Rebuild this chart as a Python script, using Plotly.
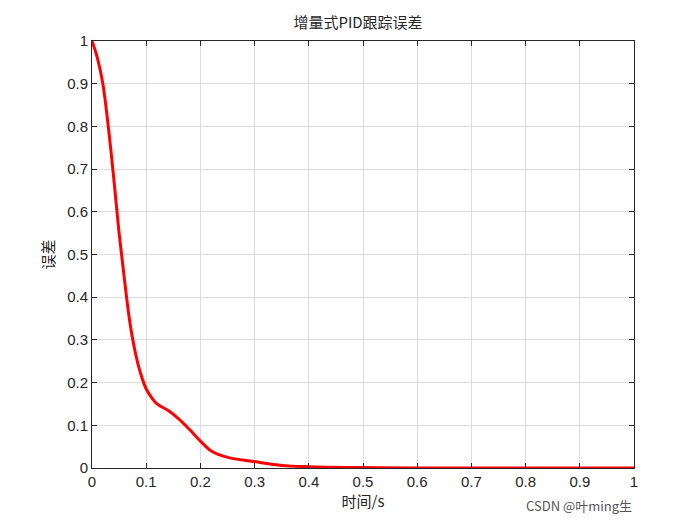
import plotly.graph_objects as go

t = [0, 0.01, 0.02, 0.03, 0.04, 0.05, 0.06, 0.07, 0.08, 0.09, 0.1, 0.11, 0.12, 0.14, 0.16, 0.18,
     0.2, 0.22, 0.25, 0.3, 0.35, 0.4, 0.5, 0.6, 0.8, 1.0]
err = [1.0, 0.96, 0.9, 0.8, 0.68, 0.55, 0.44, 0.34, 0.27, 0.22, 0.185, 0.165, 0.15, 0.135, 0.115, 0.09,
       0.063, 0.04, 0.025, 0.015, 0.006, 0.003, 0.001, 0.0, 0.0, 0.0]
ticks = [round(i * 0.1, 1) for i in range(11)]
ticktext = ["0", "0.1", "0.2", "0.3", "0.4", "0.5", "0.6", "0.7", "0.8", "0.9", "1"]

fig = go.Figure(go.Scatter(x=t, y=err, mode="lines", line=dict(color="red", width=3, shape="spline")))

axis = dict(range=[0, 1], tickvals=ticks, ticktext=ticktext, showgrid=True, gridcolor="#dcdcdc",
            showline=True, linecolor="#262626", mirror="ticks", ticks="inside", ticklen=5,
            tickcolor="#262626", zeroline=False,
            tickfont=dict(size=15, color="#262626", family="Liberation Sans, Arial"))
fig.update_xaxes(**axis, title=dict(text="时间/s", font=dict(size=15), standoff=4))
fig.update_yaxes(**axis, title=dict(text="误差", font=dict(size=15), standoff=8))
fig.update_layout(
    width=700, height=525, plot_bgcolor="white", paper_bgcolor="white",
    margin=dict(l=84, r=74, t=33, b=65), showlegend=False,
    font=dict(family="Noto Sans CJK SC, Arial", color="#262626"),
    title=dict(text="增量式PID跟踪误差", x=0.5, xanchor="center", y=0.962, yanchor="bottom",
               font=dict(size=15, color="#262626")),
    annotations=[dict(text="CSDN @叶ming生", xref="paper", yref="paper", x=1.0, y=-0.06,
                      xanchor="right", yanchor="top", showarrow=False,
                      font=dict(size=13, color="#555"))],
)
fig.write_html("out.html")
